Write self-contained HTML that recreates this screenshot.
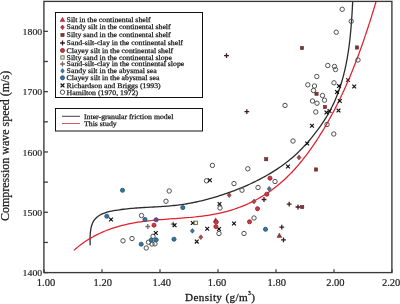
<!DOCTYPE html>
<html><head><meta charset="utf-8"><style>
html,body{margin:0;padding:0;background:#fff;}
svg{display:block;will-change:transform;}
text{font-family:"Liberation Serif",serif;fill:#1a1a1a;stroke:#1a1a1a;stroke-width:0.18px;}
.tk{font-size:10.5px;}
.tky{font-size:9.8px;}
.lg{font-size:7.05px;text-rendering:geometricPrecision;stroke-width:0.25px;}
.ax{font-size:11.2px;letter-spacing:0.36px;stroke-width:0.3px;}
</style></head><body>
<svg width="400" height="304" viewBox="0 0 400 304">
<rect width="400" height="304" fill="#fff"/>
<defs><clipPath id="cp"><rect x="43.9" y="1.4" width="348.0" height="271.2"/></clipPath></defs>
<g clip-path="url(#cp)">
<path d="M90.14 245.20 L90.11 243.30 L90.08 241.43 L90.06 239.57 L90.07 237.72 L90.13 235.86 L90.24 233.98 L90.41 232.06 L90.67 230.11 L91.01 228.17 L91.46 226.27 L92.03 224.45 L92.73 222.73 L93.56 221.16 L94.54 219.73 L95.65 218.44 L96.87 217.27 L98.21 216.22 L99.64 215.29 L101.18 214.45 L102.79 213.71 L104.48 213.05 L106.24 212.46 L108.04 211.94 L109.90 211.48 L111.78 211.08 L113.68 210.71 L115.60 210.37 L117.51 210.06 L119.42 209.77 L121.33 209.51 L123.24 209.26 L125.15 209.03 L127.05 208.82 L128.95 208.63 L130.86 208.45 L132.75 208.28 L134.65 208.13 L136.55 207.99 L138.44 207.86 L140.33 207.73 L142.22 207.62 L144.11 207.51 L145.99 207.40 L147.88 207.30 L149.76 207.20 L151.64 207.10 L153.51 207.00 L155.39 206.90 L157.26 206.80 L159.13 206.69 L161.00 206.57 L162.87 206.45 L164.73 206.33 L166.59 206.19 L168.45 206.04 L170.31 205.88 L172.17 205.71 L174.02 205.52 L175.87 205.32 L177.72 205.10 L179.57 204.86 L181.41 204.61 L183.25 204.34 L185.09 204.05 L186.93 203.75 L188.76 203.43 L190.59 203.10 L192.42 202.75 L194.25 202.38 L196.07 202.00 L197.90 201.61 L199.71 201.20 L201.53 200.77 L203.35 200.33 L205.16 199.88 L206.97 199.41 L208.77 198.92 L210.58 198.43 L212.38 197.92 L214.18 197.39 L215.97 196.86 L217.77 196.31 L219.56 195.74 L221.34 195.17 L223.13 194.58 L224.91 193.97 L226.69 193.36 L228.47 192.73 L230.24 192.10 L232.01 191.45 L233.78 190.78 L235.54 190.11 L237.30 189.42 L239.06 188.73 L240.81 188.01 L242.56 187.29 L244.30 186.55 L246.03 185.80 L247.76 185.04 L249.48 184.26 L251.20 183.47 L252.91 182.67 L254.61 181.85 L256.30 181.02 L257.99 180.17 L259.66 179.31 L261.33 178.44 L262.99 177.55 L264.64 176.64 L266.28 175.72 L267.91 174.79 L269.53 173.84 L271.13 172.87 L272.73 171.89 L274.31 170.90 L275.89 169.88 L277.45 168.85 L278.99 167.81 L280.53 166.75 L282.05 165.67 L283.55 164.58 L285.05 163.46 L286.52 162.34 L287.99 161.19 L289.44 160.03 L290.87 158.85 L292.28 157.65 L293.68 156.43 L295.07 155.20 L296.44 153.95 L297.79 152.68 L299.12 151.39 L300.44 150.08 L301.74 148.76 L303.03 147.42 L304.30 146.07 L305.56 144.70 L306.81 143.31 L308.04 141.91 L309.26 140.49 L310.47 139.06 L311.66 137.61 L312.85 136.15 L314.02 134.67 L315.18 133.19 L316.33 131.68 L317.48 130.17 L318.60 128.64 L319.72 127.10 L320.81 125.54 L321.90 123.98 L322.96 122.40 L324.01 120.81 L325.03 119.21 L326.04 117.60 L327.02 115.98 L327.98 114.35 L328.91 112.71 L329.82 111.06 L330.70 109.40 L331.56 107.73 L332.39 106.05 L333.20 104.36 L333.99 102.67 L334.76 100.96 L335.50 99.25 L336.22 97.53 L336.92 95.80 L337.59 94.06 L338.25 92.32 L338.89 90.57 L339.50 88.81 L340.10 87.04 L340.67 85.27 L341.23 83.49 L341.77 81.71 L342.29 79.92 L342.79 78.12 L343.28 76.32 L343.74 74.51 L344.19 72.70 L344.63 70.88 L345.05 69.06 L345.45 67.23 L345.84 65.40 L346.21 63.57 L346.57 61.73 L346.91 59.88 L347.24 58.04 L347.56 56.19 L347.87 54.33 L348.16 52.48 L348.44 50.62 L348.71 48.76 L348.96 46.90 L349.21 45.03 L349.44 43.16 L349.67 41.29 L349.88 39.42 L350.09 37.55 L350.28 35.68 L350.47 33.80 L350.65 31.93 L350.82 30.05 L350.98 28.18 L351.14 26.30 L351.28 24.43 L351.43 22.55 L351.56 20.68 L351.69 18.81 L351.82 16.93 L351.94 15.06 L352.06 13.19 L352.17 11.32 L352.28 9.46 L352.38 7.59 L352.48 5.73 L352.58 3.87 L352.68 2.01" fill="none" stroke="#2b2b2b" stroke-width="1.3"/>
<path d="M73.86 250.40 L76.07 248.48 L78.31 246.63 L80.57 244.87 L82.86 243.19 L85.17 241.59 L87.50 240.05 L89.86 238.60 L92.24 237.21 L94.64 235.89 L97.06 234.64 L99.50 233.45 L101.96 232.33 L104.44 231.27 L106.93 230.27 L109.45 229.33 L111.98 228.45 L114.53 227.61 L117.09 226.84 L119.66 226.11 L122.25 225.43 L124.85 224.79 L127.47 224.20 L130.09 223.65 L132.73 223.14 L135.38 222.66 L138.03 222.23 L140.70 221.82 L143.37 221.45 L146.05 221.11 L148.74 220.79 L151.43 220.50 L154.13 220.23 L156.83 219.98 L159.53 219.74 L162.24 219.52 L164.95 219.31 L167.67 219.11 L170.38 218.92 L173.09 218.72 L175.81 218.53 L178.52 218.34 L181.23 218.14 L183.93 217.94 L186.64 217.72 L189.34 217.50 L192.03 217.26 L194.72 217.00 L197.41 216.72 L200.08 216.41 L202.75 216.09 L205.41 215.73 L208.06 215.34 L210.71 214.92 L213.34 214.47 L215.96 213.97 L218.57 213.44 L221.16 212.86 L223.75 212.23 L226.31 211.56 L228.87 210.84 L231.41 210.08 L233.93 209.28 L236.44 208.42 L238.92 207.52 L241.39 206.58 L243.85 205.59 L246.28 204.56 L248.69 203.48 L251.08 202.35 L253.45 201.18 L255.79 199.97 L258.12 198.70 L260.42 197.40 L262.69 196.04 L264.94 194.65 L267.16 193.20 L269.36 191.71 L271.53 190.18 L273.67 188.60 L275.78 186.97 L277.86 185.30 L279.92 183.59 L281.94 181.83 L283.94 180.03 L285.90 178.20 L287.84 176.32 L289.76 174.41 L291.64 172.46 L293.50 170.48 L295.33 168.47 L297.13 166.42 L298.91 164.35 L300.66 162.25 L302.39 160.13 L304.09 157.97 L305.77 155.80 L307.42 153.61 L309.05 151.39 L310.65 149.16 L312.24 146.91 L313.79 144.64 L315.33 142.36 L316.84 140.07 L318.33 137.76 L319.80 135.45 L321.25 133.13 L322.68 130.80 L324.08 128.46 L325.47 126.11 L326.84 123.76 L328.18 121.40 L329.51 119.03 L330.81 116.66 L332.10 114.28 L333.37 111.89 L334.62 109.50 L335.86 107.10 L337.07 104.69 L338.27 102.28 L339.46 99.86 L340.62 97.44 L341.77 95.01 L342.91 92.58 L344.02 90.14 L345.13 87.70 L346.22 85.26 L347.29 82.81 L348.35 80.35 L349.40 77.89 L350.43 75.43 L351.45 72.96 L352.45 70.48 L353.45 68.01 L354.43 65.52 L355.40 63.04 L356.36 60.54 L357.31 58.05 L358.24 55.55 L359.17 53.04 L360.08 50.53 L360.99 48.01 L361.88 45.49 L362.77 42.97 L363.65 40.44 L364.52 37.90 L365.38 35.37 L366.23 32.82 L367.08 30.27 L367.92 27.72 L368.75 25.16 L369.57 22.60 L370.39 20.03 L371.21 17.45 L372.01 14.87 L372.81 12.29 L373.61 9.70 L374.40 7.11 L375.19 4.51 L375.98 1.90" fill="none" stroke="#e0202e" stroke-width="1.25"/>
<circle cx="342.2" cy="9.3" r="2.2" fill="none" stroke="#505050" stroke-width="1.0"/>
<circle cx="351.2" cy="21.3" r="2.2" fill="none" stroke="#505050" stroke-width="1.0"/>
<circle cx="336.2" cy="32.2" r="2.2" fill="none" stroke="#505050" stroke-width="1.0"/>
<circle cx="358" cy="60" r="2.2" fill="none" stroke="#505050" stroke-width="1.0"/>
<circle cx="327.8" cy="65.5" r="2.2" fill="none" stroke="#505050" stroke-width="1.0"/>
<circle cx="334.5" cy="66.5" r="2.2" fill="none" stroke="#505050" stroke-width="1.0"/>
<circle cx="335.5" cy="69.5" r="2.2" fill="none" stroke="#505050" stroke-width="1.0"/>
<circle cx="316.8" cy="76.5" r="2.2" fill="none" stroke="#505050" stroke-width="1.0"/>
<circle cx="334" cy="82.8" r="2.2" fill="none" stroke="#505050" stroke-width="1.0"/>
<circle cx="307.8" cy="84.8" r="2.2" fill="none" stroke="#505050" stroke-width="1.0"/>
<circle cx="314.5" cy="86" r="2.2" fill="none" stroke="#505050" stroke-width="1.0"/>
<circle cx="313.5" cy="90.5" r="2.2" fill="none" stroke="#505050" stroke-width="1.0"/>
<circle cx="322.5" cy="95.5" r="2.2" fill="none" stroke="#505050" stroke-width="1.0"/>
<circle cx="324.5" cy="100.2" r="2.2" fill="none" stroke="#505050" stroke-width="1.0"/>
<circle cx="312.5" cy="101" r="2.2" fill="none" stroke="#505050" stroke-width="1.0"/>
<circle cx="317" cy="103.2" r="2.2" fill="none" stroke="#505050" stroke-width="1.0"/>
<circle cx="315.8" cy="112" r="2.2" fill="none" stroke="#505050" stroke-width="1.0"/>
<circle cx="327" cy="124.5" r="2.2" fill="none" stroke="#505050" stroke-width="1.0"/>
<circle cx="333.8" cy="134" r="2.2" fill="none" stroke="#505050" stroke-width="1.0"/>
<circle cx="293" cy="141" r="2.2" fill="none" stroke="#505050" stroke-width="1.0"/>
<circle cx="285" cy="105.4" r="2.2" fill="none" stroke="#505050" stroke-width="1.0"/>
<circle cx="212.4" cy="165.4" r="2.2" fill="none" stroke="#505050" stroke-width="1.0"/>
<circle cx="247.8" cy="168.8" r="2.2" fill="none" stroke="#505050" stroke-width="1.0"/>
<circle cx="275" cy="181.5" r="2.2" fill="none" stroke="#505050" stroke-width="1.0"/>
<circle cx="206.5" cy="180.8" r="2.2" fill="none" stroke="#505050" stroke-width="1.0"/>
<circle cx="234" cy="183.6" r="2.2" fill="none" stroke="#505050" stroke-width="1.0"/>
<circle cx="242" cy="190.2" r="2.2" fill="none" stroke="#505050" stroke-width="1.0"/>
<circle cx="258" cy="187.5" r="2.2" fill="none" stroke="#505050" stroke-width="1.0"/>
<circle cx="169.2" cy="191" r="2.2" fill="none" stroke="#505050" stroke-width="1.0"/>
<circle cx="166" cy="201.2" r="2.2" fill="none" stroke="#505050" stroke-width="1.0"/>
<circle cx="220" cy="208" r="2.2" fill="none" stroke="#505050" stroke-width="1.0"/>
<circle cx="254" cy="218" r="2.2" fill="none" stroke="#505050" stroke-width="1.0"/>
<circle cx="244" cy="233.5" r="2.2" fill="none" stroke="#505050" stroke-width="1.0"/>
<circle cx="219" cy="233.5" r="2.2" fill="none" stroke="#505050" stroke-width="1.0"/>
<circle cx="141.5" cy="215.5" r="2.2" fill="none" stroke="#505050" stroke-width="1.0"/>
<circle cx="153" cy="236.3" r="2.2" fill="none" stroke="#505050" stroke-width="1.0"/>
<circle cx="148.5" cy="242.2" r="2.2" fill="none" stroke="#505050" stroke-width="1.0"/>
<circle cx="146.2" cy="248" r="2.2" fill="none" stroke="#505050" stroke-width="1.0"/>
<circle cx="152" cy="244" r="2.2" fill="none" stroke="#505050" stroke-width="1.0"/>
<circle cx="155" cy="243.8" r="2.2" fill="none" stroke="#505050" stroke-width="1.0"/>
<circle cx="132" cy="238.5" r="2.2" fill="none" stroke="#505050" stroke-width="1.0"/>
<circle cx="123" cy="240.8" r="2.2" fill="none" stroke="#505050" stroke-width="1.0"/>
<path d="M145.4 226.5H150.20000000000002M147.8 224.1V228.9" stroke="#7d6a62" stroke-width="1.3"/>
<path d="M170.79999999999998 224.2H175.6M173.2 221.79999999999998V226.6" stroke="#7d6a62" stroke-width="1.3"/>
<path d="M337.1 84.1L340.9 87.9M337.1 87.9L340.9 84.1" stroke="#111" stroke-width="1.2"/>
<path d="M335.1 90.1L338.9 93.9M335.1 93.9L338.9 90.1" stroke="#111" stroke-width="1.2"/>
<path d="M352.3 84.6L356.09999999999997 88.4M352.3 88.4L356.09999999999997 84.6" stroke="#111" stroke-width="1.2"/>
<path d="M337.90000000000003 99.1L341.7 102.9M337.90000000000003 102.9L341.7 99.1" stroke="#111" stroke-width="1.2"/>
<path d="M336.6 108.6L340.4 112.4M336.6 112.4L340.4 108.6" stroke="#111" stroke-width="1.2"/>
<path d="M324.6 110.6L328.4 114.4M324.6 114.4L328.4 110.6" stroke="#111" stroke-width="1.2"/>
<path d="M327.6 109.1L331.4 112.9M327.6 112.9L331.4 109.1" stroke="#111" stroke-width="1.2"/>
<path d="M310.1 123.89999999999999L313.9 127.7M310.1 127.7L313.9 123.89999999999999" stroke="#111" stroke-width="1.2"/>
<path d="M305.3 141.6L309.09999999999997 145.4M305.3 145.4L309.09999999999997 141.6" stroke="#111" stroke-width="1.2"/>
<path d="M286.1 164.6L289.9 168.4M286.1 168.4L289.9 164.6" stroke="#111" stroke-width="1.2"/>
<path d="M207.9 178.29999999999998L211.70000000000002 182.1M207.9 182.1L211.70000000000002 178.29999999999998" stroke="#111" stroke-width="1.2"/>
<path d="M217.6 202.1L221.4 205.9M217.6 205.9L221.4 202.1" stroke="#111" stroke-width="1.2"/>
<path d="M205.29999999999998 226.9L209.1 230.70000000000002M205.29999999999998 230.70000000000002L209.1 226.9" stroke="#111" stroke-width="1.2"/>
<path d="M217.1 227.1L220.9 230.9M217.1 230.9L220.9 227.1" stroke="#111" stroke-width="1.2"/>
<path d="M232.1 221.6L235.9 225.4M232.1 225.4L235.9 221.6" stroke="#111" stroke-width="1.2"/>
<path d="M172.7 223.29999999999998L176.5 227.1M172.7 227.1L176.5 223.29999999999998" stroke="#111" stroke-width="1.2"/>
<path d="M190.9 221.1L194.70000000000002 224.9M190.9 224.9L194.70000000000002 221.1" stroke="#111" stroke-width="1.2"/>
<path d="M194.85 239.7L198.65 243.5M194.85 243.5L198.65 239.7" stroke="#111" stroke-width="1.2"/>
<path d="M153.9 231.1L157.70000000000002 234.9M153.9 234.9L157.70000000000002 231.1" stroke="#111" stroke-width="1.2"/>
<path d="M109.1 217.6L112.9 221.4M109.1 221.4L112.9 217.6" stroke="#111" stroke-width="1.2"/>
<path d="M346.1 78.1L349.9 81.9M346.1 81.9L349.9 78.1" stroke="#6a1a2a" stroke-width="1.2"/>
<rect x="300.35" y="46.35" width="3.3" height="3.3" fill="#84332f" stroke="#5a2020" stroke-width="0.5"/>
<rect x="355.35" y="45.85" width="3.3" height="3.3" fill="#84332f" stroke="#5a2020" stroke-width="0.5"/>
<rect x="314.85" y="92.14999999999999" width="3.3" height="3.3" fill="#84332f" stroke="#5a2020" stroke-width="0.5"/>
<rect x="323.35" y="105.35" width="3.3" height="3.3" fill="#a02a38" stroke="#5a2020" stroke-width="0.5"/>
<rect x="264.55" y="157.54999999999998" width="3.3" height="3.3" fill="#84332f" stroke="#5a2020" stroke-width="0.5"/>
<rect x="314.35" y="167.85" width="3.3" height="3.3" fill="#84332f" stroke="#5a2020" stroke-width="0.5"/>
<rect x="300.55" y="205.35" width="3.3" height="3.3" fill="#84332f" stroke="#5a2020" stroke-width="0.5"/>
<path d="M299 155.1L301.0 157.5L299 159.9L297.0 157.5Z" fill="#b04a48" stroke="#7a2a28" stroke-width="0.6"/>
<path d="M229.2 192.79999999999998L231.2 195.2L229.2 197.6L227.2 195.2Z" fill="#b04a48" stroke="#7a2a28" stroke-width="0.6"/>
<path d="M254 199.1L256.0 201.5L254 203.9L252.0 201.5Z" fill="#b04a48" stroke="#7a2a28" stroke-width="0.6"/>
<path d="M200.8 234.79999999999998L202.8 237.2L200.8 239.6L198.8 237.2Z" fill="#b04a48" stroke="#7a2a28" stroke-width="0.6"/>
<path d="M224.1 55.7H228.9M226.5 53.300000000000004V58.1" stroke="#3c1a24" stroke-width="1.3"/>
<path d="M244.4 111.7H249.20000000000002M246.8 109.3V114.10000000000001" stroke="#3c1a24" stroke-width="1.3"/>
<path d="M261.6 199.5H266.4M264 197.1V201.9" stroke="#3c1a24" stroke-width="1.3"/>
<path d="M286.8 204.2H291.59999999999997M289.2 201.79999999999998V206.6" stroke="#3c1a24" stroke-width="1.3"/>
<path d="M295.6 207H300.4M298 204.6V209.4" stroke="#3c1a24" stroke-width="1.3"/>
<path d="M279.40000000000003 227.2H284.2M281.8 224.79999999999998V229.6" stroke="#3c1a24" stroke-width="1.3"/>
<path d="M281.1 239.8H285.9M283.5 237.4V242.20000000000002" stroke="#3c1a24" stroke-width="1.3"/>
<path d="M279.4 233.1L281.79999999999995 237.4L277.0 237.4Z" fill="#8a3a34" stroke="#6a2a28" stroke-width="0.5"/>
<path d="M215.6 217.9L218.0 222.20000000000002L213.2 222.20000000000002Z" fill="#8a3a34" stroke="#6a2a28" stroke-width="0.5"/>
<circle cx="270" cy="178.2" r="2.05" fill="#cc3a40" stroke="#8a1d25" stroke-width="0.8"/>
<circle cx="266.8" cy="194.2" r="2.05" fill="#cc3a40" stroke="#8a1d25" stroke-width="0.8"/>
<circle cx="257.5" cy="208.7" r="2.05" fill="#cc3a40" stroke="#8a1d25" stroke-width="0.8"/>
<circle cx="249.5" cy="221.8" r="2.05" fill="#cc3a40" stroke="#8a1d25" stroke-width="0.8"/>
<circle cx="216.3" cy="222" r="2.05" fill="#cc3a40" stroke="#8a1d25" stroke-width="0.8"/>
<circle cx="215.9" cy="226.6" r="2.05" fill="#cc3a40" stroke="#8a1d25" stroke-width="0.8"/>
<circle cx="154" cy="225.2" r="2.05" fill="#cc3a40" stroke="#8a1d25" stroke-width="0.8"/>
<rect x="194.15" y="221.15" width="3.3" height="3.3" fill="#f2f2d8" stroke="#66664a" stroke-width="0.9"/>
<path d="M269.2 186.4L271.2 188.8L269.2 191.20000000000002L267.2 188.8Z" fill="#3a78a0" stroke="#1d4a68" stroke-width="0.6"/>
<path d="M192.4 228.5L194.4 230.9L192.4 233.3L190.4 230.9Z" fill="#3a78a0" stroke="#1d4a68" stroke-width="0.6"/>
<circle cx="122.5" cy="190.3" r="2.05" fill="#3579a3" stroke="#1d4a68" stroke-width="0.8"/>
<circle cx="106.8" cy="216.2" r="2.05" fill="#3579a3" stroke="#1d4a68" stroke-width="0.8"/>
<circle cx="145" cy="219.5" r="2.05" fill="#3579a3" stroke="#1d4a68" stroke-width="0.8"/>
<circle cx="182.8" cy="207.6" r="2.05" fill="#3579a3" stroke="#1d4a68" stroke-width="0.8"/>
<circle cx="265.5" cy="229.3" r="2.05" fill="#3579a3" stroke="#1d4a68" stroke-width="0.8"/>
<circle cx="174" cy="239.2" r="2.05" fill="#3579a3" stroke="#1d4a68" stroke-width="0.8"/>
<circle cx="141.2" cy="244.2" r="2.05" fill="#3579a3" stroke="#1d4a68" stroke-width="0.8"/>
<circle cx="151.2" cy="240.2" r="2.05" fill="#3579a3" stroke="#1d4a68" stroke-width="0.8"/>
<circle cx="156.2" cy="239.8" r="2.05" fill="#3579a3" stroke="#1d4a68" stroke-width="0.8"/>
<circle cx="156.2" cy="219.8" r="2.05" fill="#6b4c84" stroke="#4a3060" stroke-width="0.8"/>
</g>
<rect x="43.9" y="1.4" width="348.0" height="271.2" fill="none" stroke="#383838" stroke-width="1.35"/>
<path d="M44 272.6V269.2" stroke="#3a3a3a" stroke-width="1.2"/>
<path d="M102 272.6V269.2" stroke="#3a3a3a" stroke-width="1.2"/>
<path d="M160 272.6V269.2" stroke="#3a3a3a" stroke-width="1.2"/>
<path d="M218 272.6V269.2" stroke="#3a3a3a" stroke-width="1.2"/>
<path d="M276 272.6V269.2" stroke="#3a3a3a" stroke-width="1.2"/>
<path d="M334 272.6V269.2" stroke="#3a3a3a" stroke-width="1.2"/>
<path d="M392 272.6V269.2" stroke="#3a3a3a" stroke-width="1.2"/>
<path d="M43.9 272.60H47.9" stroke="#3a3a3a" stroke-width="1.3"/>
<path d="M43.9 242.44H47.9" stroke="#3a3a3a" stroke-width="1.3"/>
<path d="M43.9 212.28H47.9" stroke="#3a3a3a" stroke-width="1.3"/>
<path d="M43.9 182.12H47.9" stroke="#3a3a3a" stroke-width="1.3"/>
<path d="M43.9 151.96H47.9" stroke="#3a3a3a" stroke-width="1.3"/>
<path d="M43.9 121.80H47.9" stroke="#3a3a3a" stroke-width="1.3"/>
<path d="M43.9 91.64H47.9" stroke="#3a3a3a" stroke-width="1.3"/>
<path d="M43.9 61.48H47.9" stroke="#3a3a3a" stroke-width="1.3"/>
<path d="M43.9 31.32H47.9" stroke="#3a3a3a" stroke-width="1.3"/>
<rect x="55.5" y="12.5" width="147" height="85" fill="#fff" stroke="#111" stroke-width="1"/>
<path d="M62.5 17.3L64.9 21.599999999999998L60.1 21.599999999999998Z" fill="#b03a48" stroke="#8a2535" stroke-width="0.5"/>
<text transform="translate(66.6 21.60) scale(1.105 1)" class="lg">Silt in the continental shelf</text>
<path d="M62.5 25.0L64.4 27.3L62.5 29.6L60.6 27.3Z" fill="#b03a48" stroke="#8a2535" stroke-width="0.6"/>
<text transform="translate(66.6 29.20) scale(1.105 1)" class="lg">Sandy silt in the continental shelf</text>
<rect x="60.85" y="33.35" width="3.3" height="3.3" fill="#84332f" stroke="#5a2020" stroke-width="0.5"/>
<text transform="translate(66.6 37.30) scale(1.105 1)" class="lg">Silty sand in the continental shelf</text>
<path d="M60.1 43.0H64.9M62.5 40.6V45.4" stroke="#3c1a24" stroke-width="1.3"/>
<text transform="translate(66.6 45.30) scale(1.105 1)" class="lg">Sand-silt-clay in the continental shelf</text>
<circle cx="62.5" cy="50.5" r="2.05" fill="#cc3a40" stroke="#8a1d25" stroke-width="0.8"/>
<text transform="translate(66.6 52.80) scale(1.105 1)" class="lg">Clayey silt in the continental shelf</text>
<rect x="60.85" y="55.85" width="3.3" height="3.3" fill="#f2f2d8" stroke="#66664a" stroke-width="0.9"/>
<text transform="translate(66.6 59.80) scale(1.105 1)" class="lg">Silty sand in the continental slope</text>
<path d="M60.1 64.0H64.9M62.5 61.6V66.4" stroke="#7d6a62" stroke-width="1.3"/>
<text transform="translate(66.6 66.30) scale(1.105 1)" class="lg">Sand-silt-clay in the continental slope</text>
<path d="M62.5 68.60000000000001L64.3 70.9L62.5 73.2L60.7 70.9Z" fill="#3a78a0" stroke="#1d4a68" stroke-width="0.6"/>
<text transform="translate(66.6 73.20) scale(1.105 1)" class="lg">Sandy silt in the abysmal sea</text>
<circle cx="62.5" cy="77.8" r="2.05" fill="#3579a3" stroke="#1d4a68" stroke-width="0.8"/>
<text transform="translate(66.6 80.10) scale(1.105 1)" class="lg">Clayey silt in the abysmal sea</text>
<path d="M60.6 83.5L64.4 87.30000000000001M60.6 87.30000000000001L64.4 83.5" stroke="#111" stroke-width="1.2"/>
<text transform="translate(66.6 87.70) scale(1.105 1)" class="lg">Richardson and Briggs (1993)</text>
<circle cx="62.5" cy="92.2" r="2.2" fill="none" stroke="#505050" stroke-width="1.0"/>
<text transform="translate(66.6 94.50) scale(1.105 1)" class="lg">Hamilton (1970, 1972)</text>
<rect x="55.5" y="108.5" width="147" height="22.5" fill="#fff" stroke="#111" stroke-width="1"/>
<path d="M62 116.3H80" stroke="#3c3c4e" stroke-width="1"/>
<path d="M62 123.5H80" stroke="#d85a68" stroke-width="1"/>
<text transform="translate(84 118.6) scale(1.105 1)" class="lg">Inter-granular friction model</text>
<text transform="translate(84 125.9) scale(1.105 1)" class="lg">This study</text>
<text x="46" y="286.1" text-anchor="middle" class="tk">1.00</text>
<text x="102.7" y="286.1" text-anchor="middle" class="tk">1.20</text>
<text x="161.7" y="286.1" text-anchor="middle" class="tk">1.40</text>
<text x="217" y="286.1" text-anchor="middle" class="tk">1.60</text>
<text x="276.75" y="286.1" text-anchor="middle" class="tk">1.80</text>
<text x="335.4" y="286.1" text-anchor="middle" class="tk">2.00</text>
<text x="391.1" y="286.1" text-anchor="middle" class="tk">2.20</text>
<text transform="translate(42.2 276.15) scale(1 0.89)" text-anchor="end" class="tky">1400</text>
<text transform="translate(42.2 215.83) scale(1 0.89)" text-anchor="end" class="tky">1500</text>
<text transform="translate(42.2 155.51) scale(1 0.89)" text-anchor="end" class="tky">1600</text>
<text transform="translate(42.2 95.19) scale(1 0.89)" text-anchor="end" class="tky">1700</text>
<text transform="translate(42.2 34.87) scale(1 0.89)" text-anchor="end" class="tky">1800</text>
<text class="ax" style="font-size:12px;letter-spacing:0;stroke-width:0.25px" transform="translate(9.0 221.1) rotate(-90)">Compression wave speed (m/s)</text>
<text class="ax" x="185" y="300.5">Density (g/m<tspan font-size="5.6" dy="-5.6">3</tspan><tspan dy="5.6">)</tspan></text>
</svg>
</body></html>
